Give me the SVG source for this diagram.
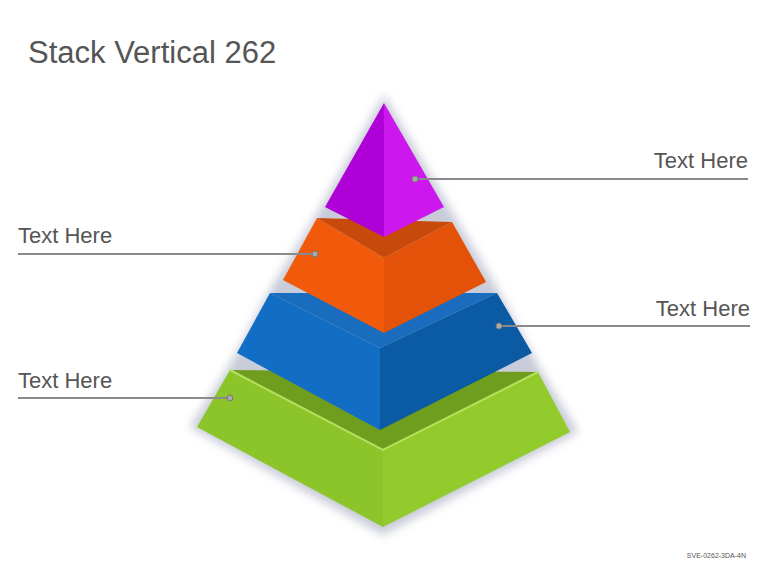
<svg xmlns="http://www.w3.org/2000/svg" width="768" height="576" viewBox="0 0 768 576">
<style>
text{font-family:"Liberation Sans",Arial,sans-serif;fill:#555}
.lbl{font-size:22px}
.ln{stroke:#8a8a8a;stroke-width:2;fill:none}
.dot{fill:#aaa;stroke:#777;stroke-width:1}
.edge{stroke-linejoin:round}
</style>
<defs>
<filter id="glow" x="-20%" y="-20%" width="140%" height="140%"><feGaussianBlur stdDeviation="5"/></filter>
</defs>
<rect width="768" height="576" fill="#fff"/>
<text x="28" y="63" font-size="31">Stack Vertical 262</text>
<polygon points="384,95 452,212 497,288 538,365 578,432 383,535 190,427 230,365 270,290 318,212" fill="#c8cbd8" filter="url(#glow)"/>
<g id="green">
<polygon points="230,370 538,372 383,450" fill="#6f9e1e"/>
<polygon points="230,370 383,450 383,527 197,427" fill="#8cc52a"/>
<polygon points="538,372 570,432 383,527 383,450" fill="#93cb2c"/>
<polyline points="230,370 383,450 538,372" fill="none" stroke="#b5e060" stroke-width="2"/>
</g>
<g id="blue">
<polygon points="270,293 497,293 380,348" fill="#1a6cbf"/>
<polygon points="270,293 380,348 380,430 237,353" fill="#116ec4"/>
<polygon points="497,293 532,353 380,430 380,348" fill="#0a5aa4"/>
</g>
<g id="orange">
<polygon points="317,218 452,222 384,258" fill="#c84a0a"/>
<polygon points="317,218 384,258 384,333 283,280" fill="#f05a0a"/>
<polygon points="452,222 486,282 384,333 384,258" fill="#e4520a"/>
</g>
<g id="purple">
<polygon points="384,103 384,237 325,207" fill="#b000d8"/>
<polygon points="384,103 444,207 384,237" fill="#cc18ee"/>
</g>
<g id="connectors">
<polyline class="ln" points="415,179 748,179"/>
<polyline class="ln" points="315,254 18,254"/>
<polyline class="ln" points="499,326 750,326"/>
<polyline class="ln" points="230,398 18,398"/>
<circle class="dot" cx="415" cy="179" r="3"/>
<circle class="dot" cx="315" cy="254" r="3"/>
<circle class="dot" cx="499" cy="326" r="3"/>
<circle class="dot" cx="230" cy="398" r="3"/>
</g>
<text class="lbl" x="748" y="168" text-anchor="end">Text Here</text>
<text class="lbl" x="18" y="243">Text Here</text>
<text class="lbl" x="750" y="316" text-anchor="end">Text Here</text>
<text class="lbl" x="18" y="388">Text Here</text>
<text x="746" y="558" font-size="7" text-anchor="end" fill="#888">SVE-0262-3DA-4N</text>
</svg>
